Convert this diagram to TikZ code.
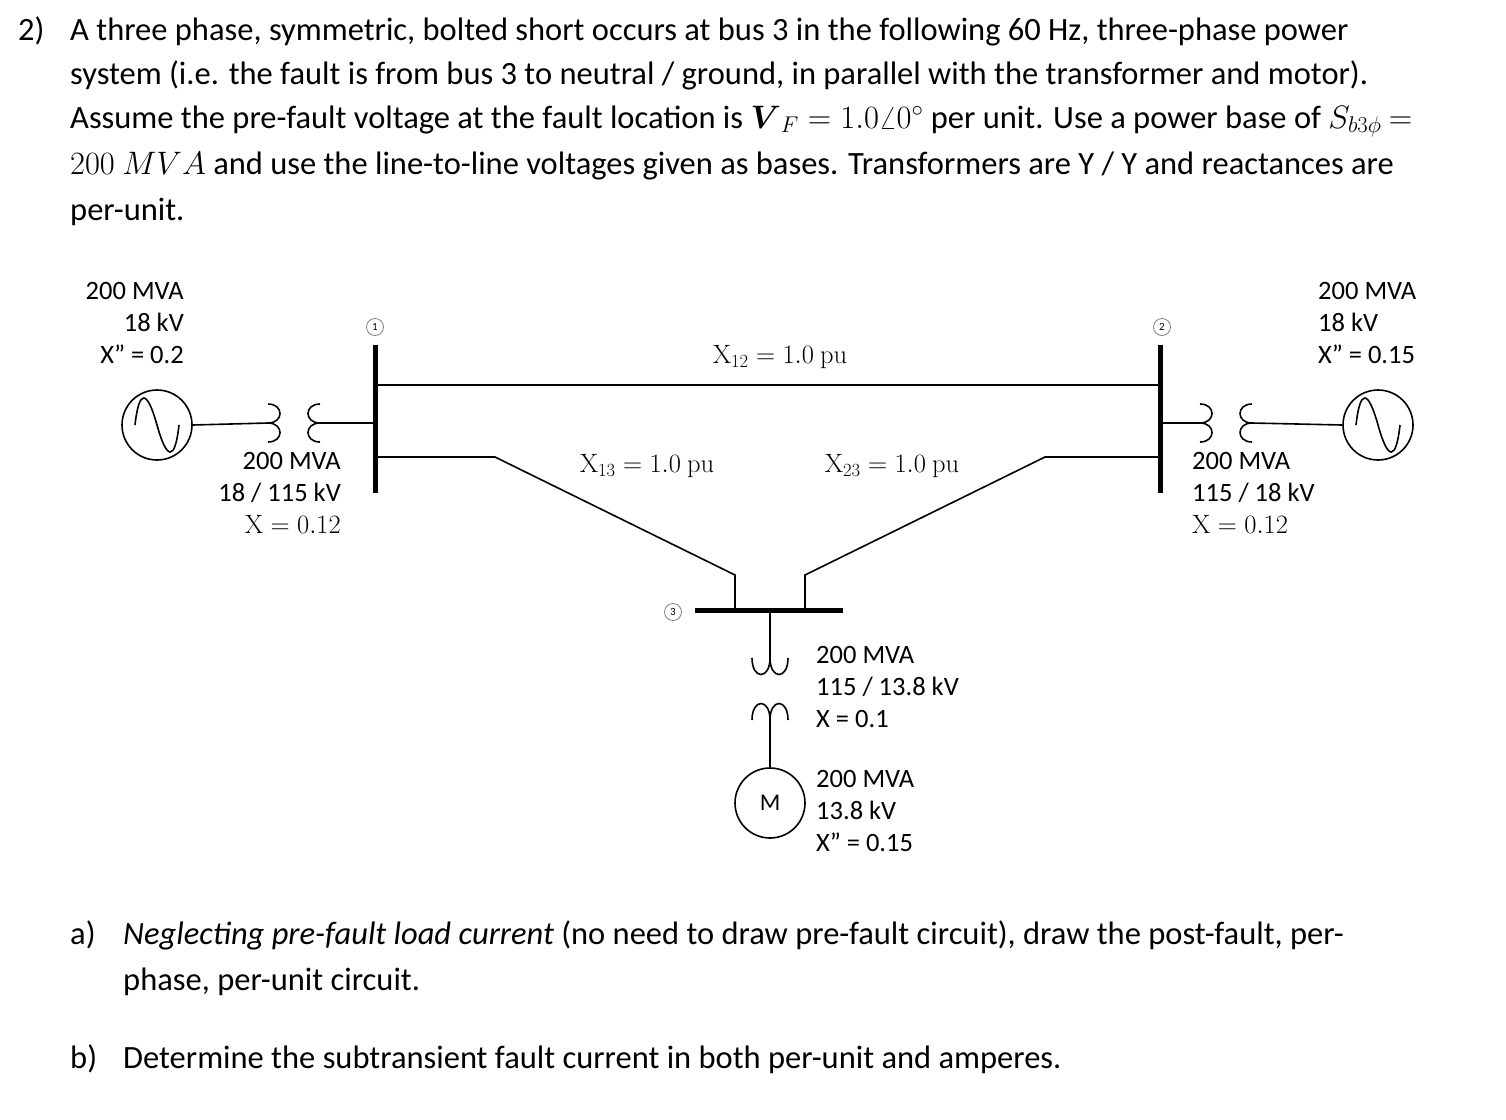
\RequirePackage{fix-cm}
\documentclass[tikz,border=0pt]{standalone}
\usepackage{amsmath}
\usepackage{fontspec}
\setmainfont{Carlito}
\setmathrm{Latin Modern Roman}
\usepackage{tikz}
\usetikzlibrary{positioning}

\tikzset{
  txt/.style={anchor=base west, inner sep=0pt, font=\fontsize{32.5}{38}\selectfont},
  lbl/.style={inner sep=0pt, font=\fontsize{26.5}{32}\selectfont, align=left},
  lblr/.style={lbl, align=right},
  mach/.style={circle, draw, line width=1.6pt, minimum size=70pt, inner sep=0pt},
  busno/.style={circle, draw=gray, line width=0.8pt, minimum size=17pt, inner sep=0pt, font=\fontsize{11}{12}\selectfont},
  bus/.style={line width=5pt},
  wire/.style={line width=1.6pt}
}

\begin{document}
\begin{tikzpicture}[x=1pt, y=-1pt]
  \useasboundingbox[fill=white] (0,0) rectangle (1506,1119);

  % problem statement
  \node[txt] (q) at (18,40) {2)};
  \node[txt] at (70,40) {A three phase, symmetric, bolted short occurs at bus 3 in the following 60 Hz, three-phase power};
  \node[txt] at (70,84) {system (i.e. the fault is from bus 3 to neutral / ground, in parallel with the transformer and motor).};
  \node[txt] at (70,128) {Assume the pre-fault voltage at the fault location is $\boldsymbol{V}_F = 1.0\angle 0^\circ$ per unit. Use a power base of $S_{b3\phi}$ $=$};
  \node[txt] at (70,174) {$200\ MVA$ and use the line-to-line voltages given as bases. Transformers are Y / Y and reactances are};
  \node[txt] at (70,220) {per-unit.};

  % machines and buses
  \node[mach] (g1) at (157,425) {};
  \node[mach] (g2) at (1378,425) {};
  \node[mach, font=\fontsize{24}{26}\selectfont] (m) at (770,803) {M};
  \coordinate (b1t) at (375,345); \coordinate (b1b) at (375,493);
  \coordinate (b2t) at (1160,345); \coordinate (b2b) at (1160,493);
  \coordinate (b3l) at (695,610); \coordinate (b3r) at (843,610);
  \draw[bus] (b1t) -- (b1b);
  \draw[bus] (b2t) -- (b2b);
  \draw[bus] (b3l) -- (b3r);
  \node[busno] (n1) at (375,327) {1};
  \node[busno] (n2) at (1162,327) {2};
  \node[busno] (n3) at (673,612) {3};

  % sine waves
  \foreach \g in {g1,g2}
    \draw[wire] ([xshift=-22pt]\g.center) .. controls +(4,-36) and +(-10,-36) .. (\g.center)
      .. controls +(10,36) and +(-4,36) .. ([xshift=22pt]\g.center);

  % transformer 1
  \draw[wire] (g1.east) -- (268,423);
  \draw[wire] (268,404) .. controls (284,404) and (284,423) .. (268,423)
    .. controls (284,423) and (284,442) .. (268,442);
  \draw[wire] (320,404) .. controls (304,404) and (304,423) .. (320,423)
    .. controls (304,423) and (304,442) .. (320,442);
  \draw[wire] (320,423) -- (375,423);

  % transformer 2
  \draw[wire] (1160,423) -- (1200,423);
  \draw[wire] (1200,404) .. controls (1216,404) and (1216,423) .. (1200,423)
    .. controls (1216,423) and (1216,442) .. (1200,442);
  \draw[wire] (1252,404) .. controls (1236,404) and (1236,423) .. (1252,423)
    .. controls (1236,423) and (1236,442) .. (1252,442);
  \draw[wire] (1252,423) -- (g2.west);

  % lines
  \draw[wire] (375,385) -- (1160,385);
  \draw[wire] (375,457) -- (495,457) -- (735,575) -- (735,610);
  \draw[wire] (1160,457) -- (1045,457) -- (805,575) -- (805,610);

  % transformer 3
  \draw[wire] (770,610) -- (770,658);
  \draw[wire] (752,658) .. controls (752,680) and (770,680) .. (770,658)
    .. controls (770,680) and (788,680) .. (788,658);
  \draw[wire] (752,720) .. controls (752,698) and (770,698) .. (770,720)
    .. controls (770,698) and (788,698) .. (788,720);
  \draw[wire] (770,720) -- (m.north);

  % ratings
  \node[lblr, anchor=north east] (g1r) at (184,282) {200 MVA\\18 kV\\X'' = 0.2};
  \node[lbl, anchor=north west] (g2r) at (1318,282) {200 MVA\\18 kV\\X'' = 0.15};
  \node[lblr, anchor=north east] (t1r) at (341,452) {200 MVA\\18 / 115 kV\\$\mathrm{X} = 0.12$};
  \node[lbl, anchor=north west] (t2r) at (1192,452) {200 MVA\\115 / 18 kV\\$\mathrm{X} = 0.12$};
  \node[lbl, anchor=north west] (t3r) at (816,646) {200 MVA\\115 / 13.8 kV\\X = 0.1};
  \node[lbl, anchor=north west] (mr) at (816,770) {200 MVA\\13.8 kV\\X'' = 0.15};
  \node[lbl] (x12) at (780,357) {$\mathrm{X}_{12} = 1.0\ \mathrm{pu}$};
  \node[lbl] (x13) at (647,466) {$\mathrm{X}_{13} = 1.0\ \mathrm{pu}$};
  \node[lbl] (x23) at (892,466) {$\mathrm{X}_{23} = 1.0\ \mathrm{pu}$};

  % questions
  \node[txt] at (70,944) {a)};
  \node[txt] at (123,944) {\textit{Neglecting pre-fault load current} (no need to draw pre-fault circuit), draw the post-fault, per-};
  \node[txt] at (123,990) {phase, per-unit circuit.};
  \node[txt] at (70,1068) {b)};
  \node[txt] at (123,1068) {Determine the subtransient fault current in both per-unit and amperes.};
\end{tikzpicture}
\end{document}
